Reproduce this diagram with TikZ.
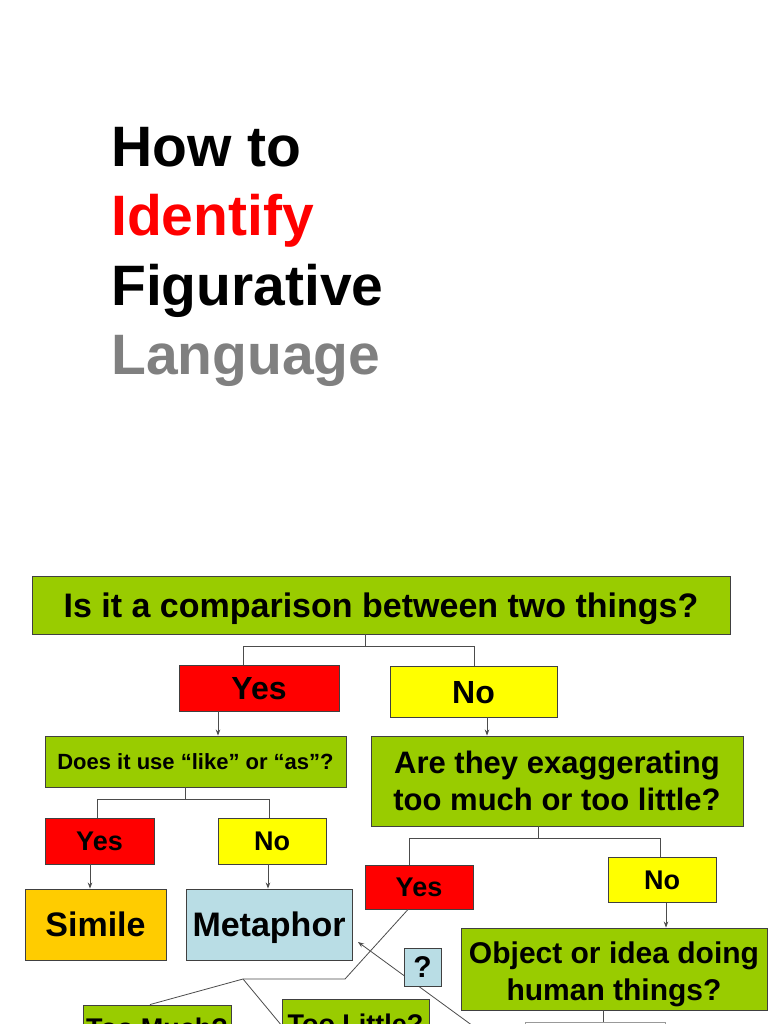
\documentclass[tikz,border=0pt]{standalone}
\usepackage{fontspec}
\setmainfont{Liberation Sans}
\usetikzlibrary{arrows.meta}
\definecolor{lgreen}{HTML}{99CC00}
\definecolor{bred}{HTML}{FF0000}
\definecolor{byellow}{HTML}{FFFF00}
\definecolor{bgold}{HTML}{FFCC00}
\definecolor{lblue}{HTML}{B9DDE5}
\definecolor{tgray}{HTML}{808080}
\begin{document}
\begin{tikzpicture}[x=1pt,y=-1pt,
  box/.style={draw=black!75, line width=0.9pt, inner sep=0pt, align=center},
  ct/.style={text height=#1, text depth=0pt},
  fA/.style={font=\bfseries\fontsize{57}{69}\selectfont},
  fB/.style={font=\bfseries\fontsize{34}{40}\selectfont},
  fC/.style={font=\bfseries\fontsize{32}{38}\selectfont},
  fD/.style={font=\bfseries\fontsize{31}{37}\selectfont},
  fE/.style={font=\bfseries\fontsize{30}{37}\selectfont},
  fF/.style={font=\bfseries\fontsize{27}{32}\selectfont},
  fG/.style={font=\bfseries\fontsize{22}{26}\selectfont},
  conn/.style={draw=black!70, line width=0.8pt},
  arr/.style={conn, -{Stealth[length=6pt,width=4.5pt]}}]
\useasboundingbox (0,0) rectangle (768,1024);
\clip (0,0) rectangle (768,1024);
\fill[white] (0,0) rectangle (768,1024);

% title
\node[fA, anchor=base west, inner sep=0pt] (t1) at (111,167) {How to};
\node[fA, anchor=base west, inner sep=0pt, text=bred] (t2) at (111,236) {Identify};
\node[fA, anchor=base west, inner sep=0pt] (t3) at (111,305) {Figurative};
\node[fA, anchor=base west, inner sep=0pt, text=tgray] (t4) at (111,374) {Language};

% connector coordinates
\coordinate (j1) at (365,646);
\coordinate (j1a) at (243,646);
\coordinate (j1b) at (474,646);
\coordinate (a1) at (218,0);
\coordinate (a2) at (487,0);
\coordinate (j2) at (185,799);
\coordinate (j2a) at (97,799);
\coordinate (j2b) at (269,799);
\coordinate (a3) at (90,0);
\coordinate (a4) at (268,0);
\coordinate (j3) at (538,838);
\coordinate (j3a) at (409,838);
\coordinate (j3b) at (660,838);
\coordinate (a5) at (666,0);
\coordinate (k1) at (408,0);
\coordinate (k2) at (345,979);
\coordinate (k3) at (243,979);
\coordinate (k4) at (150,0);
\coordinate (k5) at (292,1038);
\coordinate (m1) at (358,942);
\coordinate (m2) at (510,1053);
\coordinate (o1) at (603,0);

% boxes
\node[box, fill=lgreen, minimum width=698pt, minimum height=58pt, fB, ct=25pt] (q1) at (381,605) {Is it a comparison between two things?};
\node[box, fill=bred, minimum width=160pt, minimum height=46pt, fC, ct=23pt] (yes1) at (259,688) {Yes};
\node[box, fill=byellow, minimum width=167pt, minimum height=51pt, fC, ct=23pt] (no1) at (473.5,691.5) {No};
\node[box, fill=lgreen, minimum width=301pt, minimum height=51pt, fG, ct=16pt] (does) at (195.5,761.5) {Does it use “like” or “as”?};
\node[box, fill=lgreen, minimum width=372pt, minimum height=90pt, fD] (are) at (557,781) {Are they exaggerating\\ too much or too little?};
\node[box, fill=bred, minimum width=109pt, minimum height=46pt, fF, ct=19.5pt] (yes2) at (99.5,841) {Yes};
\node[box, fill=byellow, minimum width=108pt, minimum height=46pt, fF, ct=19.5pt] (no2) at (272,841) {No};
\node[box, fill=bgold, minimum width=141pt, minimum height=71pt, fB, ct=24.5pt] (sim) at (95.5,924.5) {Simile};
\node[box, fill=lblue, minimum width=166pt, minimum height=71pt, fB, ct=24.5pt] (meta) at (269,924.5) {Metaphor};
\node[box, fill=bred, minimum width=108pt, minimum height=44pt, fF, ct=19.5pt] (yes3) at (419,887) {Yes};
\node[box, fill=byellow, minimum width=108pt, minimum height=45pt, fF, ct=19.5pt] (no3) at (662,880) {No};
\node[box, fill=lgreen, minimum width=306pt, minimum height=82pt] (obj) at (614,969) {};
\node[fE, align=center, inner sep=0pt] (objtxt) at ([yshift=-5pt]obj.center) {Object or idea doing\\ human things?};
\node[box, fill=lgreen, minimum width=148pt, minimum height=46pt, fF, ct=19.5pt] (much) at (157,1028) {Too Much?};
\node[box, fill=lgreen, minimum width=147pt, minimum height=50pt, fF, ct=19.5pt] (little) at (355.5,1024) {Too Little?};
\node[box, draw=black!40, fill=white, minimum width=140pt, minimum height=50pt] (next) at (595,1047) {};

% tree connectors
\draw[conn] (j1 |- q1.south) -- (j1);
\draw[conn] (j1a |- yes1.north) -- (j1a) -- (j1b) -- (j1b |- no1.north);
\draw[arr] (a1 |- yes1.south) -- (a1 |- does.north);
\draw[arr] (a2 |- no1.south) -- (a2 |- are.north);
\draw[conn] (j2 |- does.south) -- (j2);
\draw[conn] (j2a |- yes2.north) -- (j2a) -- (j2b) -- (j2b |- no2.north);
\draw[arr] (a3 |- yes2.south) -- (a3 |- sim.north);
\draw[arr] (a4 |- no2.south) -- (a4 |- meta.north);
\draw[conn] (j3 |- are.south) -- (j3);
\draw[conn] (j3a |- yes3.north) -- (j3a) -- (j3b) -- (j3b |- no3.north);
\draw[arr] (a5 |- no3.south) -- (a5 |- obj.north);
\draw[conn] (k1 |- yes3.south) -- (k2) -- (k3) -- (k4 |- much.north);
\draw[conn] (k3) -- (k5);
\draw[conn] (o1 |- obj.south) -- (o1 |- next.north);
\draw[arr] (m2) -- (m1);
\node[box, fill=lblue, minimum width=37pt, minimum height=38pt, fE, ct=21.5pt] (qm) at (422.5,967) {?};
\end{tikzpicture}
\end{document}
